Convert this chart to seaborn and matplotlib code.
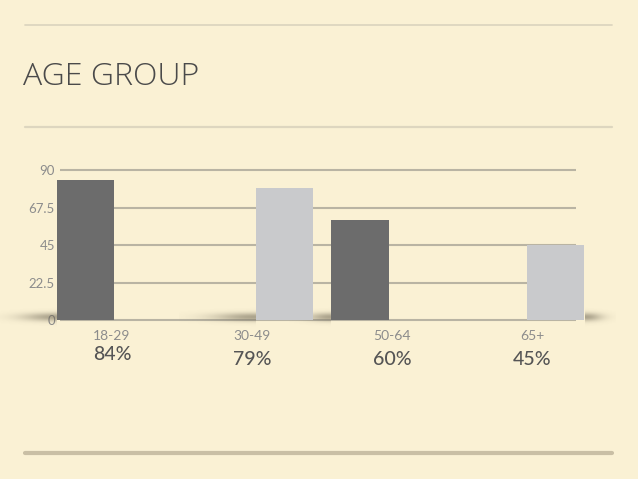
import numpy as np
import pandas as pd
import matplotlib
matplotlib.use("Agg")
import matplotlib.pyplot as plt
import seaborn as sns

# ---- data ----
categories = ["18-29", "30-49", "50-64", "65+"]
values = [84, 79, 60, 45]
pct_labels = ["84%", "79%", "60%", "45%"]
yticks = [0, 22.5, 45, 67.5, 90]
ytick_labels = ["0", "22.5", "45", "67.5", "90"]
title = "AGE GROUP"

# ---- layout/style ----
bar_offsets = [-0.19, 0.23, -0.23, 0.17]   # perspective offsets of bars from label slots
bar_colors = ["#6c6c6c", "#c9cacc", "#6c6c6c", "#c9cacc"]
shadow_side = [-1, -1, -1, 1]               # which side the floor shadow falls
shadow_len = [0.45, 0.55, 0.3, 0.22]
pct_y = [-21, -24, -24, -24]
bg = "#FAF1D4"

sns.set_theme(style="white")
plt.rcParams["font.family"] = ["Lato", "DejaVu Sans"]

fig = plt.figure(figsize=(6.38, 4.79), dpi=100)
fig.patch.set_facecolor(bg)

# decorative slide lines
for y, lw, c in [(25, 1.3, "#ddd6bf"), (127, 1.6, "#ddd6bf"), (453, 3.0, "#c9bfa5")]:
    fig.add_artist(plt.Line2D([25 / 638, 612 / 638], [1 - y / 479, 1 - y / 479],
                              color=c, lw=lw, transform=fig.transFigure))

fig.text(23 / 638, 1 - 77 / 479, title, fontsize=23, color="#4a4a4a",
         family=["Open Sans", "DejaVu Sans"], fontweight="light",
         va="center", ha="left")

ax = fig.add_axes([28 / 638, (479 - 327.5) / 479, 588 / 638, (327.5 - 161.7) / 479])
ax.set_facecolor("none")

slots = np.arange(len(categories))
df = pd.DataFrame({"pos": slots + np.array(bar_offsets), "value": values, "cat": categories})
min_gap = np.min(np.diff(np.sort(df["pos"].values)))
sns.barplot(data=df, x="pos", y="value", hue="cat", palette=bar_colors,
            native_scale=True, width=0.41 / min_gap, legend=False,
            saturation=1, ax=ax, zorder=3, edgecolor="none")

# gridlines
ax.hlines(yticks, -0.371, 3.314, colors="#b9b4a3", lw=1.5, zorder=1)

# soft floor shadows next to bars
for i, p in enumerate(list(ax.patches)):
    L = shadow_len[i]
    xs = np.linspace(0, L, 120)
    ys = np.linspace(-6, 6, 40)
    X, Y = np.meshgrid(xs, ys)
    a = np.exp(-(X / (L * 0.55)) ** 2) * np.exp(-(Y / 2.6) ** 2) * 0.55
    img = np.zeros((len(ys), len(xs), 4))
    img[..., :3] = np.array([0.42, 0.39, 0.32])
    img[..., 3] = a
    if shadow_side[i] < 0:
        x0 = p.get_x()
        img = img[:, ::-1]
        ext = (x0 - L, x0, -4.5, 7.5)
    else:
        x0 = p.get_x() + p.get_width()
        ext = (x0, x0 + L, -4.5, 7.5)
    im = ax.imshow(img, extent=ext, aspect="auto", zorder=2, interpolation="bilinear")
    im.set_clip_on(False)

ax.set_xlim(-0.6, 3.6)
ax.set_ylim(-4.5, 95)
ax.set_yticks(yticks)
ax.set_yticklabels(ytick_labels)
ax.tick_params(axis="y", length=0, pad=-19.4, labelsize=9.5, labelcolor="#8c8c8c")
ax.set_xticks(slots)
ax.set_xticklabels(categories)
ax.tick_params(axis="x", length=0, pad=2, labelsize=10, labelcolor="#8c8c8c")
ax.set_xlabel("")
ax.set_ylabel("")
for s in ax.spines.values():
    s.set_visible(False)
ax.grid(False)

for i, t in enumerate(pct_labels):
    ax.text(slots[i], pct_y[i], t, ha="center", va="center", fontsize=14,
            color="#555555", fontweight="medium", clip_on=False)

fig.savefig("out.png", dpi=100, facecolor=bg)
